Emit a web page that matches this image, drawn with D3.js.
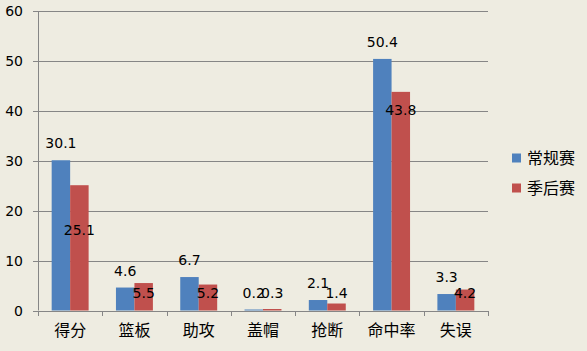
<!DOCTYPE html>
<html>
<head>
<meta charset="utf-8">
<script src="https://cdn.jsdelivr.net/npm/d3@7.9.0/dist/d3.min.js"></script>
<style>
  html, body { margin: 0; padding: 0; background: #EEECE1; }
  svg { display: block; }
</style>
</head>
<body>
<svg id="chart" width="587" height="351"></svg>
<script>
const categories = ["得分", "篮板", "助攻", "盖帽", "抢断", "命中率", "失误"];
const seriesNames = ["常规赛", "季后赛"];
const regular = [30.1, 4.6, 6.7, 0.2, 2.1, 50.4, 3.3];
const playoff = [25.1, 5.5, 5.2, 0.3, 1.4, 43.8, 4.2];
const yTicks = [0, 10, 20, 30, 40, 50, 60];

// the playoff labels were dragged by hand in the original, these are the value heights they sit at
const playoffLabelAt = [16.1, 3.5, 3.5, 3.5, 3.5, 40.1, 3.5];

const colors = ["#4F81BD", "#C0504D"];
const numFont = "'DejaVu Sans', Verdana, sans-serif";
const cjkFont = "'Noto Sans CJK SC', sans-serif";

const svg = d3.select("#chart");
const plot = { left: 38, right: 488, top: 11, bottom: 310.5 };

const x = d3.scaleBand().domain(categories).range([plot.left, plot.right]);
const xs = d3.scaleBand().domain(seriesNames).range([0, x.bandwidth()]).paddingOuter(0.74);
const y = d3.scaleLinear().domain([0, 60]).range([plot.bottom, plot.top]);

// gridlines + y ticks
svg.append("g")
  .selectAll("line")
  .data(yTicks.slice(1))
  .join("line")
  .attr("x1", plot.left - 5)
  .attr("x2", plot.right)
  .attr("y1", d => Math.round(y(d)) + 0.5)
  .attr("y2", d => Math.round(y(d)) + 0.5)
  .attr("stroke", "#868686")
  .attr("stroke-width", 1);

svg.append("g")
  .selectAll("text")
  .data(yTicks)
  .join("text")
  .attr("x", 23)
  .attr("y", d => y(d))
  .attr("dy", "0.36em")
  .attr("text-anchor", "end")
  .style("font-family", numFont)
  .style("font-size", "14px")
  .attr("fill", "#000")
  .text(d => d);

const data = categories.map((c, i) => ({ cat: c, values: [regular[i], playoff[i]] }));

const groups = svg.append("g")
  .selectAll("g")
  .data(data)
  .join("g")
  .attr("transform", d => `translate(${x(d.cat)},0)`);

groups.selectAll("rect")
  .data(d => d.values.map((v, j) => ({ s: seriesNames[j], v, j })))
  .join("rect")
  .attr("x", d => xs(d.s))
  .attr("width", xs.bandwidth())
  .attr("y", d => y(d.v))
  .attr("height", d => y(0) - y(d.v))
  .attr("fill", d => colors[d.j]);

// axes lines
svg.append("line")
  .attr("x1", plot.left + 0.5).attr("x2", plot.left + 0.5)
  .attr("y1", plot.top).attr("y2", plot.bottom)
  .attr("stroke", "#868686");
svg.append("line")
  .attr("x1", plot.left - 5).attr("x2", plot.right)
  .attr("y1", Math.round(plot.bottom) + 0.5).attr("y2", Math.round(plot.bottom) + 0.5)
  .attr("stroke", "#868686");

const xTickPos = categories.map(c => x(c)).concat([plot.right]);
svg.append("g")
  .selectAll("line")
  .data(xTickPos)
  .join("line")
  .attr("x1", d => Math.round(d) + 0.5)
  .attr("x2", d => Math.round(d) + 0.5)
  .attr("y1", Math.round(plot.bottom))
  .attr("y2", Math.round(plot.bottom) + 5)
  .attr("stroke", "#868686");

// category labels
svg.append("g")
  .selectAll("text")
  .data(categories)
  .join("text")
  .attr("x", d => x(d) + x.bandwidth() / 2)
  .attr("y", 330)
  .attr("dy", "0.36em")
  .attr("text-anchor", "middle")
  .style("font-family", cjkFont)
  .style("font-size", "16px")
  .text(d => d);

// value labels
groups.append("text")
  .attr("x", xs(seriesNames[0]) + xs.bandwidth() / 2)
  .attr("y", d => y(d.values[0]) - 17)
  .attr("dy", "0.36em")
  .attr("text-anchor", "middle")
  .style("font-family", numFont)
  .style("font-size", "14px")
  .text(d => d.values[0]);

groups.append("text")
  .attr("x", xs(seriesNames[1]) + xs.bandwidth() / 2)
  .attr("y", (d, i) => y(playoffLabelAt[i]))
  .attr("dy", "0.36em")
  .attr("text-anchor", "middle")
  .style("font-family", numFont)
  .style("font-size", "14px")
  .text(d => d.values[1]);

// legend
const legend = svg.append("g")
  .selectAll("g")
  .data(seriesNames)
  .join("g")
  .attr("transform", (d, i) => `translate(512, ${158 + i * 30})`);

legend.append("rect")
  .attr("x", 0).attr("y", -4.5)
  .attr("width", 9).attr("height", 9)
  .attr("fill", (d, i) => colors[i]);

legend.append("text")
  .attr("x", 15)
  .attr("y", 0)
  .attr("dy", "0.36em")
  .style("font-family", cjkFont)
  .style("font-size", "16px")
  .text(d => d);
</script>
</body>
</html>
